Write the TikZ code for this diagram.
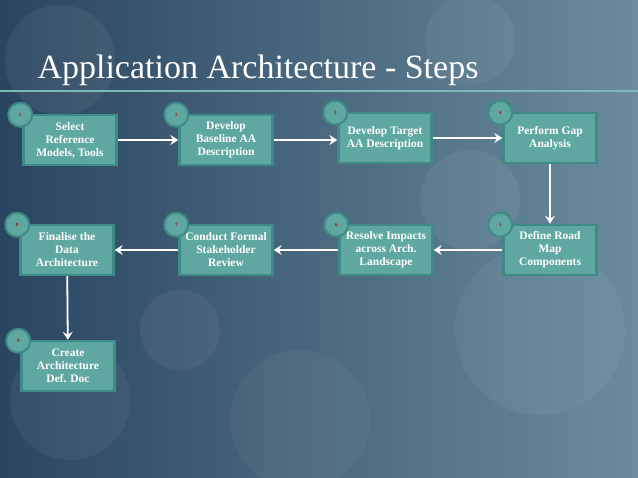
\documentclass[tikz,border=0pt]{standalone}
\usepackage{fontspec}
\usetikzlibrary{arrows.meta}
\setmainfont{Liberation Serif}
\begin{document}
\begin{tikzpicture}[x=1pt,y=-1pt,
 box/.style={draw=boxedge,line width=2.5pt,fill=boxfill,text=white,font=\bfseries\fontsize{11.5}{13}\selectfont,align=center,minimum width=93pt,minimum height=50pt,inner sep=1pt},
 num/.style={circle,draw=boxedge,line width=2pt,fill=boxfill,minimum size=24pt,text=red!75!black,font=\bfseries\fontsize{5}{5}\selectfont,inner sep=0pt},
 arr/.style={draw=white,line width=1.8pt,-{Stealth[length=8pt,width=10pt,inset=3pt]}}]
\definecolor{boxfill}{HTML}{5FA8A2}
\definecolor{boxedge}{HTML}{3E8A86}
\definecolor{bgA}{HTML}{2A4560}
\definecolor{bgB}{HTML}{6A8C9E}
\useasboundingbox (0,0) rectangle (638,478);
\shade[left color=bgA,right color=bgB] (0,0) rectangle (638,478);
\fill[white,opacity=0.06] (60,60) circle (55);
\fill[white,opacity=0.05] (470,40) circle (45);
\fill[white,opacity=0.06] (470,200) circle (50);
\fill[white,opacity=0.05] (180,330) circle (40);
\fill[white,opacity=0.05] (540,330) circle (85);
\fill[white,opacity=0.05] (70,400) circle (60);
\fill[white,opacity=0.04] (300,420) circle (70);
\draw[boxfill!80!white,line width=2pt] (0,91) -- (638,91);
\node[anchor=west,text=white,font=\fontsize{34}{36}\selectfont] (title) at (34,70) {Application Architecture - Steps};
\node[box] (b1) at (70,140) {Select\\Reference\\Models, Tools};
\node[box] (b2) at (226,140) {Develop\\Baseline AA\\Description};
\node[box] (b3) at (385,138) {Develop Target\\AA Description};
\node[box] (b4) at (550,138) {Perform Gap\\Analysis};
\node[box] (b5) at (550,250) {Define Road\\Map\\Components};
\node[box] (b6) at (386,250) {Resolve Impacts\\across Arch.\\Landscape};
\node[box] (b7) at (226,250) {Conduct Formal\\Stakeholder\\Review};
\node[box] (b8) at (67,250) {Finalise the\\Data\\Architecture};
\node[box] (b9) at (68,366) {Create\\Architecture\\Def. Doc};
\foreach \n in {1,...,9}
  \node[num] (c\n) at ([xshift=-2pt,yshift=-1pt]b\n.north west) {\n};
\draw[arr] (b1) -- (b2);
\draw[arr] (b2.east) -- (b2.east -| b3.west);
\draw[arr] (b3) -- (b4);
\draw[arr] (b4) -- (b5);
\draw[arr] (b5) -- (b6);
\draw[arr] (b6) -- (b7);
\draw[arr] (b7) -- (b8);
\draw[arr] (b8) -- (b9);
\end{tikzpicture}
\end{document}
